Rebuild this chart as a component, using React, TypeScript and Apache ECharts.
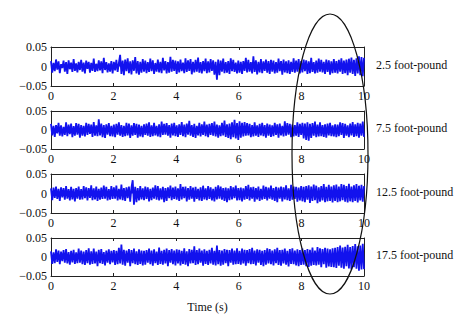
import React, { useEffect, useRef } from "react";
import * as echarts from "echarts";

// Vibration signals, values in units of 1e-3 (250 samples over 0–10 s)
const signal25 = [
  14,-16,9,-12,18,-8,13,-17,6,-4,15,-13,11,-19,16,-7,10,-14,19,-11,8,-15,12,-9,17,
  -13,10,-18,15,-6,12,-16,9,-11,20,-14,7,-12,16,-10,13,-17,22,-9,11,-15,8,-13,14,-18,
  12,-10,17,-14,9,30,-19,15,-22,18,-12,21,-17,13,-20,16,-11,24,-18,14,-21,12,-16,19,-13,
  15,-17,11,-14,20,-12,16,-19,9,-13,18,-15,12,-17,22,-10,14,-18,11,-16,25,-13,17,-11,15,
  -19,13,-15,18,-12,10,-17,21,-14,16,-11,19,-20,12,-15,17,-13,23,-16,11,-18,14,-12,20,-17,
  13,-15,19,-11,16,-21,12,-34,18,-22,15,-13,20,-17,11,-16,14,-19,21,-12,17,-14,10,-18,15,
  -16,12,-19,14,-11,22,-15,17,-13,11,-18,26,-14,16,-20,12,-15,19,-17,13,-11,18,-16,14,-19,
  17,-13,15,-18,11,-16,20,-12,14,-21,18,-15,13,-17,16,-19,12,-14,21,-16,15,-13,19,-18,14,
  -15,18,-12,16,-19,13,-17,22,-14,11,-18,15,-16,20,-13,17,-15,12,-19,18,-14,16,-21,13,-17,
  19,-16,14,-18,17,-13,21,-19,15,-17,18,-22,20,-16,23,-19,17,-24,21,-18,26,-22,24,-25,22,
];
const signal75 = [
  16,-14,11,-18,13,-9,19,-15,12,-17,8,-13,20,-16,14,-11,17,-19,10,-15,18,-12,16,-20,13,
  -15,11,-17,19,-13,16,-10,14,-18,21,-15,12,-16,28,-14,17,-19,13,-21,15,-12,18,-16,11,-17,
  14,-19,16,-12,20,-15,13,-18,11,-16,19,-14,17,-21,12,-15,18,-13,16,-20,14,-17,11,-19,15,
  -13,17,-15,20,-18,12,-16,19,-14,11,-17,15,-19,22,-13,16,-12,18,-15,13,-20,17,-14,19,-16,
  12,-18,15,-13,21,-16,14,-19,17,-12,24,-15,13,-18,16,-21,11,-14,19,-17,15,-13,22,-16,14,
  -19,16,-13,18,-15,22,-17,14,-20,12,-16,19,-14,25,-18,15,-21,17,-24,20,-19,27,-22,18,-26,
  23,-20,19,-17,21,-15,18,-14,16,-19,13,-17,20,-15,12,-18,16,-14,19,-16,13,-20,17,-15,14,
  -18,12,-16,19,-13,15,-20,17,-14,11,-17,23,-15,18,-12,16,-19,14,-17,13,-15,20,-18,16,-13,
  19,-22,17,-26,20,-28,16,-21,18,-15,22,-19,14,-17,20,-16,13,-18,15,-20,17,-14,19,-16,12,
  -17,15,-19,14,-16,20,-13,18,-21,16,-15,12,-19,17,-14,21,-18,15,-16,19,-20,17,-15,22,-18,
];
const signal125 = [
  13,-17,15,-11,18,-14,12,-19,16,-10,14,-16,19,-13,11,-18,17,-15,12,-20,14,-13,18,-16,11,
  -15,19,-12,16,-18,14,-11,21,-17,13,-15,18,-19,12,-16,15,-14,20,-13,17,-18,11,-16,19,-14,
  16,-13,20,-18,12,-15,23,-17,14,-19,16,-12,18,-21,15,34,-29,17,-22,14,-18,19,-15,13,-17,
  18,-14,16,-20,12,-17,15,-13,21,-16,19,-18,13,-15,17,-22,14,-19,16,-12,20,-17,15,-14,18,
  -16,13,-19,24,-15,17,-12,18,-20,14,-16,19,-13,15,-21,17,-14,12,-18,16,-19,20,-15,13,-17,
  19,-14,16,-18,12,-20,17,-15,21,-13,18,-16,14,-19,15,-22,13,-17,19,-15,16,-12,20,-18,14,
  -17,15,-20,13,-16,19,-14,22,-18,16,-13,17,-21,14,-15,18,-19,12,-16,20,-14,17,-18,15,-13,
  20,-16,14,-19,17,-22,15,-13,18,-20,16,-15,21,-17,13,-19,22,-16,18,-14,17,-21,15,-18,19,
  -20,17,-22,19,-16,21,-24,18,-19,23,-17,20,-25,16,-21,19,-18,24,-22,17,-20,22,-19,18,-23,
  21,-19,23,-22,18,-20,24,-17,22,-21,19,-23,25,-20,18,-22,21,-19,24,-23,20,-18,22,-21,19,
];
const signal175 = [
  15,-18,12,-16,20,-13,17,-19,14,-11,18,-15,21,-17,13,-20,16,-14,19,-18,12,-16,22,-15,17,
  -19,14,-21,18,-16,23,-20,15,-18,22,-17,14,-24,19,-16,21,-18,13,-22,17,-15,20,-19,16,-14,
  18,-21,16,-19,24,-17,33,-20,19,-23,17,-15,21,-24,18,-16,22,-19,15,-21,20,-18,17,-22,16,
  -20,18,-15,22,-19,17,-23,20,-16,14,-21,25,-18,16,-20,19,-17,22,-24,18,-15,21,-19,17,-22,
  20,-17,19,-22,16,-18,23,-20,15,-24,21,-17,19,-16,28,-21,18,-19,22,-15,17,-23,20,-18,16,
  -21,19,-17,24,-20,16,-22,30,-19,18,-23,17,-20,21,-16,19,-24,18,-15,22,-20,17,-19,23,-18,
  16,-20,22,-17,19,-23,18,-16,21,-19,24,-18,17,-22,20,-15,19,-21,16,-24,18,-20,23,-17,21,
  -19,17,-22,20,-16,24,-21,18,-23,19,-17,22,-20,16,-25,21,-18,23,-19,17,-22,20,-24,18,-21,
  22,-20,18,-24,21,-26,19,-23,25,-21,17,-22,26,-20,23,-27,21,-19,24,-28,22,-25,20,-26,23,
  -27,24,-29,26,-23,30,-28,25,-31,27,-24,32,-30,26,-33,29,-27,34,-31,28,-36,30,-33,35,-32,
];

const signals = [signal25, signal75, signal125, signal175];
const loadLabels = ["2.5 foot-pound", "7.5 foot-pound", "12.5 foot-pound", "17.5 foot-pound"];
const DURATION = 10; // seconds
const xTicks = [0, 2, 4, 6, 8, 10];
const yTicks = [-0.05, 0, 0.05];

const FONT = "'Liberation Serif', 'DejaVu Serif', serif";
const grids = [
  { top: 47, height: 39 },
  { top: 111, height: 38 },
  { top: 174, height: 39 },
  { top: 238, height: 38 },
];

export default function App() {
  const ref = useRef<HTMLDivElement>(null);
  useEffect(() => {
    if (!ref.current) return;
    const chart = echarts.init(ref.current, null, { renderer: "svg" });
    const lineColor = "#222";
    const blue = "#1212ee";
    const xAxes: any[] = [];
    const yAxes: any[] = [];
    const series: any[] = [];
    grids.forEach((g, k) => {
      const base = {
        type: "value",
        gridIndex: k,
        min: xTicks[0],
        max: xTicks[xTicks.length - 1],
        interval: 2,
        splitLine: { show: false },
        axisLine: { show: true, onZero: false, lineStyle: { color: lineColor, width: 1 } },
        axisTick: { show: true, inside: true, length: 3, lineStyle: { color: lineColor } },
      };
      xAxes.push({
        ...base,
        position: "bottom",
        axisLabel: { show: true, fontFamily: FONT, fontSize: 12, color: "#111", margin: 4 },
        ...(k === grids.length - 1
          ? {
              name: "Time (s)",
              nameLocation: "middle",
              nameGap: 25,
              nameTextStyle: { fontFamily: FONT, fontSize: 12, color: "#111" },
            }
          : {}),
      });
      xAxes.push({ ...base, position: "top", axisLabel: { show: false } });
      const ybase = {
        type: "value",
        gridIndex: k,
        min: yTicks[0],
        max: yTicks[yTicks.length - 1],
        interval: 0.05,
        splitLine: { show: false },
        axisLine: { show: true, onZero: false, lineStyle: { color: lineColor, width: 1 } },
        axisTick: { show: true, inside: true, length: 3, lineStyle: { color: lineColor } },
      };
      yAxes.push({
        ...ybase,
        position: "left",
        axisLabel: {
          show: true,
          fontFamily: FONT,
          fontSize: 12,
          color: "#111",
          margin: 4,
          formatter: (v: number) => (v < 0 ? "\u2212" + Math.abs(v).toString() : v.toString()),
        },
      });
      yAxes.push({ ...ybase, position: "right", axisLabel: { show: false } });
      const sig = signals[k];
      const n = sig.length;
      series.push({
        type: "line",
        xAxisIndex: 2 * k,
        yAxisIndex: 2 * k,
        showSymbol: false,
        symbol: "none",
        sampling: "none",
        lineStyle: { color: blue, width: 1.8, join: "miter" },
        areaStyle: { color: blue, opacity: 1, origin: 0 },
        data: sig.map((v, i) => [(i * DURATION) / (n - 1), v / 1000]),
        z: 1,
      });
    });

    chart.setOption({
      animation: false,
      grid: grids.map((g) => ({ left: 51, width: 313, top: g.top, height: g.height })),
      xAxis: xAxes,
      yAxis: yAxes,
      series,
      graphic: [
        ...loadLabels.map((t, k) => ({
          type: "text",
          left: 376,
          top: grids[k].top + grids[k].height / 2 - 8,
          style: { text: t, font: `12px ${FONT}`, fill: "#111" },
        })),
        {
          type: "ellipse",
          shape: { cx: 330, cy: 154, rx: 38, ry: 140 },
          style: { fill: "none", stroke: "#111", lineWidth: 1.2 },
          z: 100,
        },
      ],
    });
    return () => chart.dispose();
  }, []);
  return (
    <div
      ref={ref}
      style={{ position: "fixed", left: 0, top: 0, width: 474, height: 331, background: "#fff" }}
    />
  );
}
